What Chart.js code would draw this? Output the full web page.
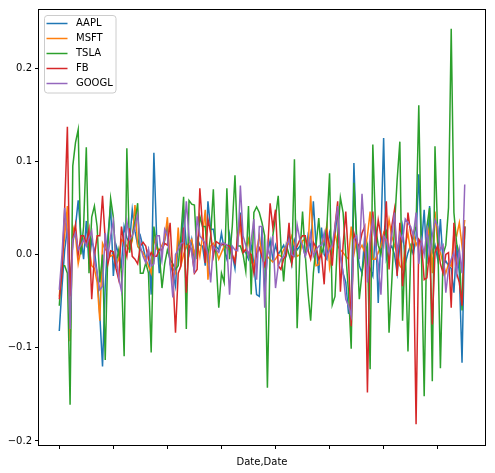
<!DOCTYPE html>
<html>
<head>
<meta charset="utf-8">
<script src="https://cdn.jsdelivr.net/npm/chart.js@4"></script>
<style>
  html, body { margin: 0; padding: 0; background: #fff; }
  canvas { display: block; }
</style>
</head>
<body>
<canvas id="chart" width="495" height="473"></canvas>
<script>
// daily returns
const seriesNames = ["AAPL", "MSFT", "TSLA", "FB", "GOOGL"];

const aapl = [
  -0.082, -0.035, 0.005, 0.028, -0.03, 0.012, 0.03, 0.058, 0.02, -0.005,
  0.036, -0.01, 0.015, 0.005, -0.02, -0.065, -0.12, -0.034, 0.02, 0.052,
  -0.023, 0.01, 0.0, -0.012, 0.03, 0.018, 0.012, 0.048, 0.025, 0.01,
  0.02, 0.008, -0.005, 0.005, -0.043, 0.109, 0.02, -0.02, 0.005, 0.015,
  0.032, -0.01, -0.02, -0.034, 0.016, 0.0, 0.048, 0.01, 0.0, 0.016,
  -0.005, 0.018, 0.01, 0.009, -0.012, 0.057, 0.027, 0.027, 0.009, 0.005,
  0.023, 0.005, -0.005, 0.021, 0.0, -0.015, 0.02, 0.045, 0.005, 0.002,
  -0.005, 0.01, -0.01, -0.043, -0.045, 0.03, -0.04, 0.0, 0.015, -0.005,
  0.01, 0.0, 0.005, 0.01, 0.0, 0.023, -0.009, 0.015, 0.005, 0.009,
  0.01, -0.002, 0.02, 0.005, 0.057, 0.01, -0.02, 0.029, 0.0, -0.005,
  0.023, 0.01, 0.02, 0.048, 0.0, -0.02, -0.03, -0.063, -0.064, 0.098,
  0.009, -0.012, -0.02, 0.02, -0.01, -0.015, -0.023, 0.03, -0.052, 0.02,
  0.125, -0.005, 0.005, 0.009, 0.0, -0.02, 0.01, 0.03, -0.01, 0.002,
  0.01, 0.0, 0.02, 0.086, 0.01, 0.048, -0.01, 0.052, 0.002, 0.01,
  -0.005, 0.038, -0.01, -0.007, -0.012, -0.015, -0.041, 0.01, -0.02, -0.116,
  0.03
];

const msft = [
  -0.045, -0.01, 0.02, 0.052, -0.093, 0.03, 0.02, -0.01, 0.005, 0.016,
  0.01, 0.009, -0.012, -0.015, -0.03, -0.071, 0.012, 0.005, 0.005, -0.002,
  0.0, -0.012, -0.005, 0.016, 0.013, 0.009, 0.005, 0.015, 0.053, 0.009,
  0.005, 0.002, -0.005, -0.012, -0.02, 0.018, 0.006, 0.005, 0.01, 0.016,
  0.04, -0.009, -0.015, -0.02, 0.029, -0.012, 0.0, 0.009, 0.012, 0.016,
  0.0, 0.013, -0.002, 0.02, 0.048, -0.027, 0.009, 0.012, 0.005, -0.005,
  0.002, 0.009, 0.007, 0.005, -0.002, -0.005, 0.015, 0.03, 0.002, 0.006,
  0.016, -0.008, -0.012, 0.005, 0.02, -0.002, -0.012, -0.002, -0.005, -0.008,
  -0.005, 0.0, -0.002, 0.005, 0.009, 0.012, 0.02, 0.01, -0.002, 0.0,
  0.015, 0.016, 0.005, 0.063, 0.012, -0.012, -0.011, 0.012, 0.015, 0.032,
  -0.014, 0.002, 0.023, 0.009, 0.005, 0.002, -0.002, -0.005, 0.03, 0.0,
  0.016, 0.005, 0.01, 0.002, 0.02, 0.046, -0.005, -0.005, 0.002, 0.01,
  0.023, 0.015, 0.0375, 0.02, 0.01, 0.002, -0.012, -0.016, 0.01, 0.023,
  0.002, 0.023, 0.01, 0.016, 0.005, 0.002, 0.015, 0.03, -0.02, 0.046,
  0.01, 0.002, -0.01, -0.02, -0.01, -0.0125, 0.023, 0.02, 0.034, 0.009,
  0.037
];

const tsla = [
  -0.055, -0.012, -0.012, -0.02, -0.161, 0.095, 0.12, 0.134, 0.0, 0.03,
  0.115, -0.02, 0.04, 0.052, 0.03, -0.03, 0.0, -0.113, 0.01, 0.06,
  0.04, -0.01, 0.005, -0.02, -0.109, 0.114, 0.002, 0.02, 0.035, 0.055,
  -0.02, -0.02, -0.009, -0.02, -0.105, 0.03, 0.01, 0.002, -0.036, -0.01,
  0.005, -0.005, -0.01, -0.016, -0.012, 0.02, 0.062, -0.08, 0.058, 0.054,
  0.053, -0.005, 0.041, 0.03, 0.03, -0.002, 0.02, 0.07, -0.005, -0.057,
  -0.02, -0.03, 0.071, -0.005, 0.03, 0.085, 0.009, 0.009, 0.0, -0.018,
  0.052, -0.043, 0.045, 0.051, 0.045, 0.034, 0.02, -0.143, 0.0, 0.02,
  0.04, 0.063, 0.01, -0.029, 0.01, 0.0, -0.01, 0.102, -0.079, 0.0,
  0.046, 0.0, -0.04, -0.071, -0.02, 0.01, 0.039, 0.0, 0.01, 0.03,
  0.087, -0.054, -0.045, 0.02, 0.061, 0.045, 0.0, -0.04, -0.101, 0.077,
  0.02, -0.048, -0.02, 0.0, 0.01, -0.123, 0.118, 0.03, 0.01, 0.0,
  0.02, 0.025, -0.084, -0.03, 0.03, 0.08, 0.121, -0.071, 0.01, -0.104,
  0.0, 0.02, 0.03, 0.16, 0.0, -0.152, 0.03, 0.05, -0.136, 0.116,
  0.02, -0.122, 0.0, 0.01, 0.05, 0.242, 0.045, 0.012, 0.0, -0.06,
  0.03
];

const fb = [
  -0.048, -0.02, 0.05, 0.137, -0.045, 0.016, 0.032, 0.0, 0.02, 0.02,
  0.012, 0.027, -0.048, -0.002, 0.02, 0.02, 0.063, 0.016, -0.01, 0.004,
  0.003, -0.015, -0.027, 0.03, 0.01, -0.002, 0.028, -0.002, -0.005, -0.01,
  0.009, 0.013, 0.009, -0.005, 0.002, -0.002, -0.002, 0.005, 0.005, 0.012,
  0.01, 0.034, -0.02, -0.084, -0.02, -0.012, 0.029, -0.041, 0.01, 0.005,
  -0.02, -0.016, 0.071, 0.03, -0.009, 0.038, 0.023, -0.002, 0.014, 0.012,
  0.01, 0.012, 0.01, 0.009, 0.0, -0.009, 0.02, 0.038, 0.002, 0.005,
  0.002, 0.0, -0.02, 0.0, 0.007, -0.002, -0.012, 0.0, 0.055, 0.029,
  0.048, -0.012, -0.016, -0.005, 0.0, 0.034, -0.009, 0.005, 0.009, 0.016,
  0.02, 0.02, 0.005, -0.005, 0.013, 0.008, -0.005, 0.0, -0.032, 0.023,
  0.01, -0.012, 0.03, 0.057, -0.04, 0.01, 0.046, -0.005, -0.077, 0.023,
  0.012, 0.009, 0.023, 0.03, -0.148, 0.002, 0.046, 0.009, 0.037, 0.02,
  0.01, 0.057, -0.016, 0.03, 0.048, -0.023, 0.034, -0.034, 0.0, 0.045,
  0.023, 0.01, -0.182, 0.016, 0.012, -0.027, -0.025, 0.005, -0.075, 0.002,
  0.01, -0.01, -0.02, 0.0, 0.002, -0.057, 0.034, -0.02, -0.03, -0.055,
  0.03
];

const googl = [
  -0.038, 0.0, 0.05, 0.02, -0.08, 0.016, 0.023, 0.005, 0.01, 0.016,
  0.009, 0.018, 0.025, -0.005, -0.02, -0.038, -0.034, 0.023, -0.002, 0.02,
  0.036, -0.004, -0.025, -0.039, 0.005, 0.036, 0.016, 0.02, 0.03, 0.043,
  0.009, -0.002, -0.009, 0.005, -0.0125, -0.01, 0.02, 0.02, -0.005, 0.027,
  0.02, -0.01, -0.046, 0.0, 0.005, 0.012, 0.013, 0.057, 0.02, 0.002,
  -0.02, 0.041, 0.02, 0.016, 0.012, 0.0, -0.03, 0.009, 0.005, 0.002,
  0.012, 0.012, 0.01, -0.043, 0.009, 0.005, 0.004, 0.074, 0.02, 0.01,
  -0.002, 0.015, 0.038, -0.027, 0.03, 0.03, -0.057, 0.011, -0.002, 0.02,
  -0.036, -0.0125, -0.005, -0.002, 0.01, 0.016, 0.0, -0.002, 0.032, 0.016,
  0.01, -0.002, 0.008, 0.023, -0.002, 0.005, 0.009, 0.01, 0.023, -0.002,
  0.005, 0.01, 0.03, 0.052, -0.002, -0.02, -0.048, -0.055, -0.066, 0.016,
  0.02, -0.005, 0.065, 0.02, -0.03, 0.02, 0.0375, 0.01, -0.01, -0.043,
  0.02, 0.016, 0.002, 0.02, 0.045, 0.002, 0.023, 0.015, 0.038, 0.034,
  0.03, 0.02, 0.045, -0.01, 0.016, 0.0, 0.026, 0.002, 0.02, 0.037,
  0.03, 0.005, 0.01, -0.041, -0.016, -0.005, 0.002, -0.02, 0.005, -0.02,
  0.075
];

const seriesValues = [aapl, msft, tsla, fb, googl];
const yTicks = [-0.2, -0.1, 0.0, 0.1, 0.2];
const xTicks = [0, 20, 40, 60, 80, 100, 120, 140];
const xLabel = "Date,Date";

const colors = ["#1f77b4", "#ff7f0e", "#2ca02c", "#d62728", "#9467bd"];
const FONT = "'DejaVu Sans', sans-serif";

function toPoints(values) {
  return values.map((v, i) => ({ x: i, y: v }));
}

function tickText(v) {
  if (Math.abs(v) < 1e-9) return "0.0";
  return v.toFixed(1).replace("-", "\u2212");
}

// matplotlib draws all four spines
const frame = {
  id: "frame",
  afterDatasetsDraw(chart) {
    const { ctx, chartArea: a } = chart;
    ctx.save();
    ctx.strokeStyle = "#000";
    ctx.lineWidth = 1;
    ctx.strokeRect(Math.round(a.left) - 0.5, Math.round(a.top) - 0.5,
      Math.round(a.right - a.left) + 1, Math.round(a.bottom - a.top) + 1);
    ctx.restore();
  }
};

// boxed legend in the upper left corner of the axes
const boxLegend = {
  id: "boxLegend",
  afterDraw(chart) {
    const { ctx, chartArea: a } = chart;
    const x0 = a.left + 5, y0 = a.top + 5;
    const w = 72, h = 78, r = 3;
    ctx.save();
    ctx.beginPath();
    ctx.moveTo(x0 + r, y0 + 0.5);
    ctx.arcTo(x0 + w, y0 + 0.5, x0 + w, y0 + h, r);
    ctx.arcTo(x0 + w, y0 + h, x0, y0 + h, r);
    ctx.arcTo(x0 + 0.5, y0 + h, x0 + 0.5, y0, r);
    ctx.arcTo(x0 + 0.5, y0 + 0.5, x0 + w, y0 + 0.5, r);
    ctx.closePath();
    ctx.fillStyle = "rgba(255,255,255,0.8)";
    ctx.fill();
    ctx.strokeStyle = "#cccccc";
    ctx.lineWidth = 1;
    ctx.stroke();

    ctx.font = "10px " + FONT;
    ctx.textBaseline = "middle";
    chart.data.datasets.forEach((ds, i) => {
      const y = y0 + 8.5 + i * 15;
      ctx.beginPath();
      ctx.moveTo(x0 + 2.5, y);
      ctx.lineTo(x0 + 23.5, y);
      ctx.strokeStyle = ds.borderColor;
      ctx.lineWidth = 1.5;
      ctx.stroke();
      ctx.fillStyle = "#000";
      ctx.fillText(ds.label, x0 + 32, y);
    });
    ctx.restore();
  }
};

const ctx = document.getElementById("chart").getContext("2d");

new Chart(ctx, {
  type: "line",
  data: {
    datasets: seriesNames.map((name, k) => ({
      label: name,
      data: toPoints(seriesValues[k]),
      borderColor: colors[k],
      backgroundColor: colors[k],
      borderWidth: 1.5,
      pointRadius: 0,
      tension: 0,
      fill: false,
      order: seriesNames.length - 1 - k
    }))
  },
  options: {
    responsive: false,
    animation: false,
    devicePixelRatio: 1,
    layout: { padding: { top: 10, right: 10, left: 0, bottom: 0 } },
    plugins: {
      legend: { display: false },
      tooltip: { enabled: false }
    },
    scales: {
      x: {
        type: "linear",
        min: -7.5,
        max: 157.5,
        afterBuildTicks: (s) => { s.ticks = xTicks.map(v => ({ value: v })); },
        afterFit: (s) => { s.height = 28; },
        grid: { drawOnChartArea: false, color: "#000", tickLength: 4, tickWidth: 1 },
        border: { display: false },
        ticks: { display: false },
        title: {
          display: true,
          text: xLabel,
          color: "#000",
          font: { family: FONT, size: 10 },
          padding: { top: 0, bottom: 5 }
        }
      },
      y: {
        type: "linear",
        min: -0.2043,
        max: 0.2622,
        afterBuildTicks: (s) => { s.ticks = yTicks.map(v => ({ value: v })); },
        afterFit: (s) => { s.width = 39; },
        grid: { drawOnChartArea: false, color: "#000", tickLength: 4, tickWidth: 1 },
        border: { display: false },
        ticks: {
          autoSkip: false,
          color: "#000",
          padding: 3,
          font: { family: FONT, size: 10 },
          callback: (v) => tickText(v)
        }
      }
    }
  },
  plugins: [frame, boxLegend]
});
</script>
</body>
</html>
